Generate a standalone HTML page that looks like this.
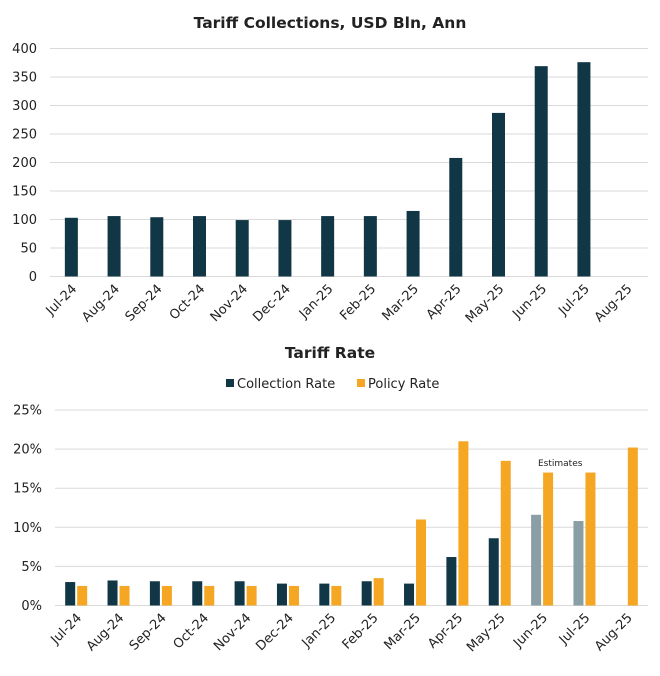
<!DOCTYPE html>
<html><head><meta charset="utf-8"><style>
body{margin:0;background:#fff;}
svg text{font-family:"DejaVu Sans","Liberation Sans",sans-serif;fill:#222;}
</style></head><body>
<svg id="c" width="660" height="671" xmlns="http://www.w3.org/2000/svg"></svg>
<script>
const categories=["Jul-24","Aug-24","Sep-24","Oct-24","Nov-24","Dec-24","Jan-25","Feb-25","Mar-25","Apr-25","May-25","Jun-25","Jul-25","Aug-25"];
const collections=[103,106,104,106,99,99,106,106,115,208,287,369,376,null];
const collectionRate=[3.0,3.2,3.1,3.1,3.1,2.8,2.8,3.1,2.8,6.2,8.6,11.6,10.8,null];
const policyRate=[2.5,2.5,2.5,2.5,2.5,2.5,2.5,3.5,11.0,21.0,18.5,17.0,17.0,20.2];
const estimated=[false,false,false,false,false,false,false,false,false,false,false,true,true,false];
const topTicks=[0,50,100,150,200,250,300,350,400];
const botTicks=[0,5,10,15,20,25];
const NS="http://www.w3.org/2000/svg";
const svg=document.getElementById('c');
function mk(t,a,p){const e=document.createElementNS(NS,t);for(const k in a)e.setAttribute(k,a[k]);(p||svg).appendChild(e);return e;}
const tX0=50,tX1=648,tY0=276.5,tY1=48.5;
const tx=i=>tX0+(i+0.5)*(tX1-tX0)/categories.length;
const ty=v=>tY0-(v/400)*(tY0-tY1);
let t=mk('text',{x:330,y:28,'text-anchor':'middle','font-size':'15.5','font-weight':'bold'});t.textContent="Tariff Collections, USD Bln, Ann";

topTicks.forEach(v=>{const l=mk('line',{x1:tX0,x2:tX1,y1:ty(v),y2:ty(v),stroke:'#d9d9d9','stroke-width':1});

const s=mk('text',{x:37,y:ty(v)+4.5,'text-anchor':'end','font-size':'13'});s.textContent=v;
});
collections.forEach((v,i)=>{if(v==null)return;const r=mk('rect',{x:tx(i)-6.5,y:ty(v),width:13,height:tY0-ty(v),fill:'#113746'});
});
categories.forEach((c,i)=>{const s=mk('text',{transform:`translate(${tx(i)+6},${tY0+13}) rotate(-45)`,'text-anchor':'end','font-size':'13'});s.textContent=c;
});
const bX0=55,bX1=648,bY0=605.5,bY1=410;
const bx=i=>bX0+(i+0.5)*(bX1-bX0)/categories.length;
const by=v=>bY0-(v/25)*(bY0-bY1);
t=mk('text',{x:330,y:358,'text-anchor':'middle','font-size':'15.5','font-weight':'bold'});t.textContent="Tariff Rate";

let g=mk('g',{});
mk('rect',{x:226,y:379,width:8,height:8,fill:'#113746'},g);
let lt=mk('text',{x:237,y:388,'font-size':'13'},g);lt.textContent="Collection Rate";
mk('rect',{x:357,y:379,width:8,height:8,fill:'#f5a623'},g);
lt=mk('text',{x:368,y:388,'font-size':'13'},g);lt.textContent="Policy Rate";
botTicks.forEach(v=>{const l=mk('line',{x1:bX0,x2:bX1,y1:by(v),y2:by(v),stroke:'#d9d9d9','stroke-width':1});

const s=mk('text',{x:42,y:by(v)+4.5,'text-anchor':'end','font-size':'13'});s.textContent=v+"%";
});
collectionRate.forEach((v,i)=>{if(v==null)return;const r=mk('rect',{x:bx(i)-11,y:by(v),width:10,height:bY0-by(v),fill:estimated[i]?'#8a9ea5':'#113746'});
});
policyRate.forEach((v,i)=>{if(v==null)return;const r=mk('rect',{x:bx(i)+1,y:by(v),width:10,height:bY0-by(v),fill:'#f5a623'});
});
t=mk('text',{x:538,y:466,'font-size':'9',fill:'#444'});t.textContent="Estimates";

categories.forEach((c,i)=>{const s=mk('text',{transform:`translate(${bx(i)+6},${bY0+13}) rotate(-45)`,'text-anchor':'end','font-size':'13'});s.textContent=c;
});
</script>
</body></html>
